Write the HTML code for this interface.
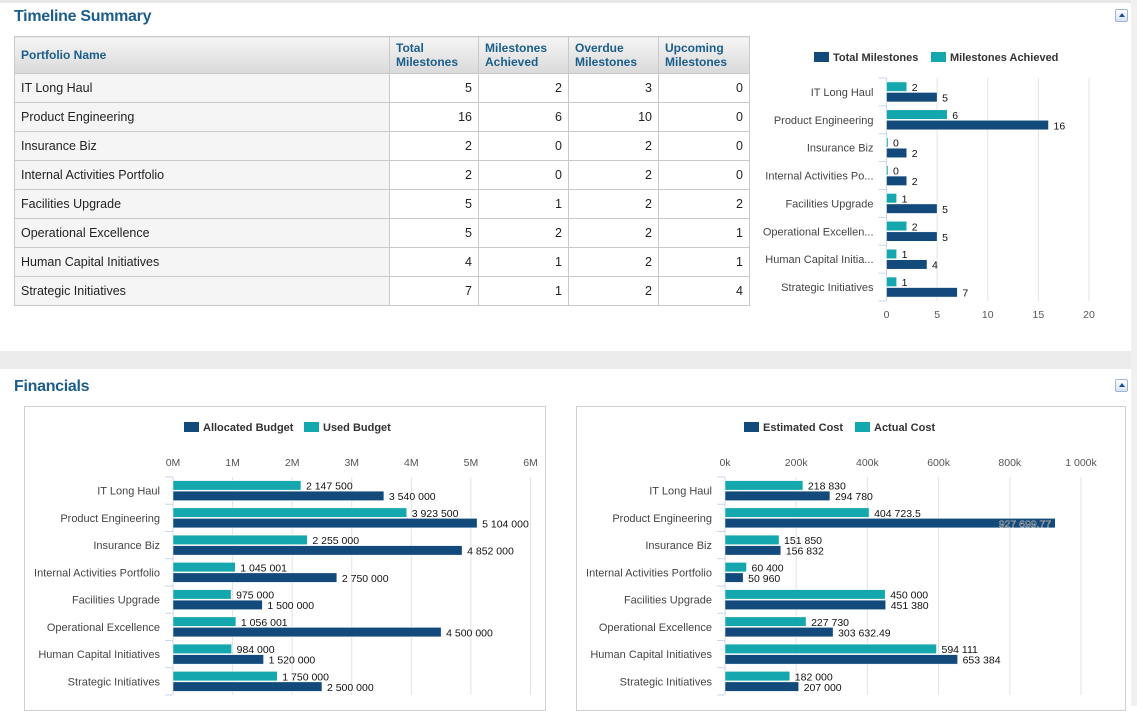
<!DOCTYPE html>
<html><head><meta charset="utf-8">
<style>
body{margin:0;width:1137px;height:706px;overflow:hidden;background:#fff;font-family:"Liberation Sans",sans-serif;position:relative}
.abs{position:absolute}
.title{font-size:16px;font-weight:bold;color:#1b5e8c;letter-spacing:-0.3px}
.collapse{width:11px;height:11px;border:1px solid #9fb6d6;border-radius:2px;background:linear-gradient(#fff,#d6e3f3)}
.collapse:after{content:"";position:absolute;left:3px;top:3px;border-left:3px solid transparent;border-right:3px solid transparent;border-bottom:4px solid #1b4f8c}
table{border-collapse:collapse;font-size:12.5px;color:#222}
td,th{border:1px solid #c9c9c9;padding:0 6px;box-sizing:border-box}
th{background:linear-gradient(#f5f5f5,#d9d9d9);color:#1b5e8c;font-weight:bold;text-align:left;font-size:12px;line-height:14px;vertical-align:middle}
td{height:29px;text-align:right;background:#fff}
td.n{text-align:left;background:#f5f5f5}
.panel{border:1px solid #cfcfcf;box-sizing:border-box;background:#fff}
svg text{font-family:"Liberation Sans",sans-serif}
</style></head><body>
<div class="abs" style="left:0;top:0;width:1137px;height:3px;background:#e8e8e8"></div>
<div class="abs" style="left:1131px;top:0;width:6px;height:706px;background:#f0f0f0"></div>
<div class="abs" style="left:0;top:351px;width:1131px;height:18px;background:#ececec"></div>

<div class="abs title" style="left:14px;top:8px">Timeline Summary</div>
<div class="abs collapse" style="left:1115px;top:9px"></div>
<div class="abs title" style="left:14px;top:378px">Financials</div>
<div class="abs collapse" style="left:1115px;top:379px"></div>

<table class="abs" style="left:14px;top:36px;width:736px">
<colgroup><col style="width:375px"><col style="width:89px"><col style="width:90px"><col style="width:90px"><col style="width:91px"></colgroup>
<tr style="height:37px"><th>Portfolio Name</th><th>Total<br>Milestones</th><th>Milestones<br>Achieved</th><th>Overdue<br>Milestones</th><th>Upcoming<br>Milestones</th></tr>
<tr><td class="n">IT Long Haul</td><td>5</td><td>2</td><td>3</td><td>0</td></tr>
<tr><td class="n">Product Engineering</td><td>16</td><td>6</td><td>10</td><td>0</td></tr>
<tr><td class="n">Insurance Biz</td><td>2</td><td>0</td><td>2</td><td>0</td></tr>
<tr><td class="n">Internal Activities Portfolio</td><td>2</td><td>0</td><td>2</td><td>0</td></tr>
<tr><td class="n">Facilities Upgrade</td><td>5</td><td>1</td><td>2</td><td>2</td></tr>
<tr><td class="n">Operational Excellence</td><td>5</td><td>2</td><td>2</td><td>1</td></tr>
<tr><td class="n">Human Capital Initiatives</td><td>4</td><td>1</td><td>2</td><td>1</td></tr>
<tr><td class="n">Strategic Initiatives</td><td>7</td><td>1</td><td>2</td><td>4</td></tr>
</table>

<div class="abs panel" style="left:24px;top:406px;width:522px;height:305px"></div>
<div class="abs panel" style="left:576px;top:406px;width:550px;height:305px"></div>

<svg id="chart" class="abs" style="left:0;top:0" width="1137" height="706"></svg>

<script>
// Milestones chart data
const msCatsAll = ["IT Long Haul","Product Engineering","Insurance Biz","Internal Activities Po...","Facilities Upgrade","Operational Excellen...","Human Capital Initia...","Strategic Initiatives"];
const msAchieved = [2,6,0,0,1,2,1,1];
const msTotal = [5,16,2,2,5,5,4,7];
const msTicks = [0,5,10,15,20];
const msTickLabels = ["0","5","10","15","20"];
// Financial categories
const finCats = ["IT Long Haul","Product Engineering","Insurance Biz","Internal Activities Portfolio","Facilities Upgrade","Operational Excellence","Human Capital Initiatives","Strategic Initiatives"];
const usedBudget = [2147500,3923500,2255000,1045001,975000,1056001,984000,1750000];
const allocBudget = [3540000,5104000,4852000,2750000,1500000,4500000,1520000,2500000];
const budgetTicks = [0,1e6,2e6,3e6,4e6,5e6,6e6];
const budgetTickLabels = ["0M","1M","2M","3M","4M","5M","6M"];
const actualCost = [218830,404723.5,151850,60400,450000,227730,594111,182000];
const estCost = [294780,927699.77,156832,50960,451380,303632.49,653384,207000];
const costTicks = [0,200000,400000,600000,800000,1000000];
const costTickLabels = ["0k","200k","400k","600k","800k","1 000k"];

const NAVY="#134a7c", TEAL="#14a7ae";
const svg=document.getElementById('chart');
const NS="http://www.w3.org/2000/svg";
function mk(tag,attrs,parent){const e=document.createElementNS(NS,tag);for(const k in attrs)e.setAttribute(k,attrs[k]);(parent||svg).appendChild(e);return e;}
function fmt(v){let s=String(v);let [i,d]=s.split('.');i=i.replace(/\B(?=(\d{3})+(?!\d))/g,' ');return d?i+'.'+d:i;}

function legend(g,x,y,items){
  items.forEach(it=>{
    const r=mk('rect',{x:it.x,y:y-5,width:15,height:10,fill:it.c},g);
    
    
    const t=mk('text',{x:it.x+19,y:y+4,'font-size':11,'font-weight':'bold',fill:'#333'},g);
    t.textContent=it.t;
    
    
  });
}

function hchart(o){
  const g=mk('g',{});
  
  
  const xs=v=>o.x0+(v-o.min)/(o.max-o.min)*(o.x1-o.x0);
  const n=o.cats.length, bh=(o.yb-o.yt)/n;
  o.ticks.forEach((t,i)=>{
    const gl=mk('line',{x1:xs(t),x2:xs(t),y1:o.yt,y2:o.yb,stroke:'#e3e3e3','stroke-width':1},g);
    
    
    const tl=mk('text',{x:xs(t),y:o.tickY,'font-size':10.5,fill:'#555','text-anchor':'middle'},g);
    tl.textContent=o.tickLabels[i];
    
    
  });
  const ax=mk('line',{x1:xs(o.min),x2:xs(o.min),y1:o.yt,y2:o.yb,stroke:'#ccd6eb'},g);
  
  
  for(let i=0;i<=n;i++){const y=o.yt+i*bh;mk('line',{x1:xs(o.min)-8,x2:xs(o.min),y1:y,y2:y,stroke:'#ccd6eb'},g);}
  const sh=o.barH;
  o.cats.forEach((c,i)=>{
    const cy=o.yt+i*bh+bh/2;
    const cl=mk('text',{x:xs(o.min)-13,y:cy+4,'font-size':11,fill:'#444','text-anchor':'end'},g);
    cl.textContent=c;
    
    
    [[o.s1,TEAL,cy-sh-0.5],[o.s2,NAVY,cy+0.5]].forEach(([arr,col,y])=>{
      const v=arr[i];const w=Math.max(xs(v)-xs(o.min),1.5);
      const b=mk('rect',{x:xs(o.min),y:y,width:w,height:sh,fill:col,stroke:'#fff','stroke-width':0.5},g);
      
      
      let tx=xs(o.min)+w+5, anchor='start', fill='#111';
      if(o.inside && xs(o.min)+w > o.x1-50){tx=xs(o.min)+w-4;anchor='end';fill='#222';}
      const vl=mk('text',{x:tx,y:y+sh-0.5,'font-size':10.5,fill:fill,'text-anchor':anchor},g);
      if(anchor==='end'){vl.setAttribute('stroke','#fff');vl.setAttribute('stroke-width','0.3');}
      vl.textContent=fmt(v);
      
      
    });
  });
}

hchart({name:'milestones-chart',cats:msCatsAll,s1:msAchieved,s2:msTotal,min:0,max:20,x0:886.5,x1:1089,yt:78,yb:301,ticks:msTicks,tickLabels:msTickLabels,tickY:318,barH:9.5});
legend(svg,0,57,[{x:814,c:NAVY,t:'Total Milestones'},{x:931,c:TEAL,t:'Milestones Achieved'}]);

hchart({name:'budget-chart',cats:finCats,s1:usedBudget,s2:allocBudget,min:0,max:6e6,x0:173,x1:530.5,yt:477,yb:695,ticks:budgetTicks,tickLabels:budgetTickLabels,tickY:466,barH:9.5});
legend(svg,0,427,[{x:184,c:NAVY,t:'Allocated Budget'},{x:304,c:TEAL,t:'Used Budget'}]);

hchart({name:'cost-chart',cats:finCats,s1:actualCost,s2:estCost,min:0,max:1e6,x0:725,x1:1081,yt:477,yb:695,ticks:costTicks,tickLabels:costTickLabels,tickY:466,barH:9.5,inside:true});
legend(svg,0,427,[{x:744,c:NAVY,t:'Estimated Cost'},{x:855,c:TEAL,t:'Actual Cost'}]);
</script>
</body></html>
